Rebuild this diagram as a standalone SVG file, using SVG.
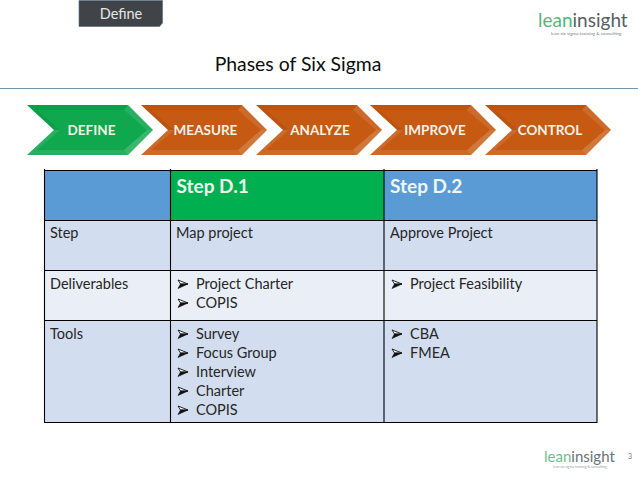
<svg xmlns="http://www.w3.org/2000/svg" width="638" height="479" viewBox="0 0 638 479">
<defs>
<style>
text{font-family:"Lato","Liberation Sans",sans-serif;fill:#262626}
.c{font-size:14.5px}
.h{font-size:19px;font-weight:700;fill:#eef7f0}
.p{font-size:13.5px;font-weight:700;fill:#f3f1e8;text-anchor:middle}
.g{stroke:#000;stroke-width:1.1;fill:none}
.lg{font-size:19px;font-weight:400;fill:#566065}
.lt{font-size:4.6px;fill:#7a8084}
</style>
<g id="chev">
<path d="M0 0H101L126 25L101 50H0L27 25Z"/>
<path d="M101 0L126 25L120 25L97 5Z" fill="#fff" fill-opacity=".1"/>
<path d="M126 25L101 50L97 45L120 25Z" fill="#fff" fill-opacity=".18"/>
<path d="M0 50L27 25H33L10 45H97L101 50Z" fill="#fff" fill-opacity=".1"/>
<path d="M0 0H101L97 5H10L33 25H27Z" fill="#000" fill-opacity=".06"/>
</g>
<g id="arrowbullet">
<path d="M0 0L10 4L2.500 4Z" fill="#fff" stroke="#111" stroke-width=".9"/>
<path d="M0 8.500L10 4H2.500Z" fill="#111" stroke="#111" stroke-width=".6"/>
</g>
</defs>
<rect width="638" height="479" fill="#fff"/>
<g id="tab">
<path d="M79 0.500H162.500V23L159.500 26.500H79Z" fill="#404347" stroke="#5b7486" stroke-width=".7"/>
<text x="121" y="19" font-size="14.500" text-anchor="middle" style="fill:#e6e6e6">Define</text>
</g>
<text id="title" x="298" y="71" font-size="19.400" text-anchor="middle" style="fill:#0d0d0d">Phases of Six Sigma</text>
<line x1="0" y1="88.500" x2="638" y2="88.500" stroke="#6f93ad" stroke-width="1"/>
<g id="logo-top">
<text x="538" y="26.500" class="lg"><tspan style="fill:#54b67c">lean</tspan>insight</text>
<text x="551" y="35" class="lt">lean six sigma training &amp; consulting</text>
</g>
<g id="phase-define" fill="#0fa84f"><use href="#chev" x="27" y="105"/><text x="91.500" y="135" class="p">DEFINE</text></g>
<g id="phase-measure" fill="#c65a12"><use href="#chev" x="141" y="105"/><text x="205.500" y="135" class="p">MEASURE</text></g>
<g id="phase-analyze" fill="#c65a12"><use href="#chev" x="256" y="105"/><text x="320" y="135" class="p">ANALYZE</text></g>
<g id="phase-improve" fill="#c65a12"><use href="#chev" x="370" y="105"/><text x="435" y="135" class="p">IMPROVE</text></g>
<g id="phase-control" fill="#c65a12"><use href="#chev" x="485" y="105"/><text x="550" y="135" class="p">CONTROL</text></g>
<g id="table">
<rect x="44" y="170" width="126" height="50" fill="#5b9bd5"/>
<rect x="170" y="170" width="214" height="50" fill="#00b050"/>
<rect x="384" y="170" width="213" height="50" fill="#5b9bd5"/>
<rect x="44" y="220" width="553" height="50" fill="#d2deef"/>
<rect x="44" y="270" width="553" height="50" fill="#eaeff7"/>
<rect x="44" y="320" width="553" height="102" fill="#d2deef"/>
<path class="g" d="M44 170.500H597M44 220.500H597M44 270.500H597M44 320.500H597M44 422.500H597M44.500 169V423M170.500 169V423M384 169V423M597 169V423"/>
<text x="176.500" y="193" class="h">Step D.1</text>
<text x="390" y="193" class="h">Step D.2</text>
<text x="50" y="238" class="c">Step</text>
<text x="176" y="238" class="c">Map project</text>
<text x="390" y="238" class="c">Approve Project</text>
<text x="50" y="289" class="c">Deliverables</text>
<use href="#arrowbullet" x="178" y="280"/><text x="196" y="289" class="c">Project Charter</text>
<use href="#arrowbullet" x="178" y="299"/><text x="196" y="308" class="c">COPIS</text>
<use href="#arrowbullet" x="392" y="280"/><text x="410" y="289" class="c">Project Feasibility</text>
<text x="50" y="339" class="c">Tools</text>
<use href="#arrowbullet" x="178" y="330"/><text x="196" y="339" class="c">Survey</text>
<use href="#arrowbullet" x="178" y="349"/><text x="196" y="358" class="c">Focus Group</text>
<use href="#arrowbullet" x="178" y="368"/><text x="196" y="377" class="c">Interview</text>
<use href="#arrowbullet" x="178" y="387"/><text x="196" y="396" class="c">Charter</text>
<use href="#arrowbullet" x="178" y="406"/><text x="196" y="415" class="c">COPIS</text>
<use href="#arrowbullet" x="392" y="330"/><text x="410" y="339" class="c">CBA</text>
<use href="#arrowbullet" x="392" y="349"/><text x="410" y="358" class="c">FMEA</text>
</g>
<g id="logo-bottom">
<text x="544" y="462" font-size="15" style="fill:#6a7478"><tspan style="fill:#6cc08f">lean</tspan>insight</text>
<text x="553" y="468" font-size="3.500" style="fill:#9a9fa2">lean six sigma training &amp; consulting</text>
</g>
<text id="page" x="630" y="459" font-size="7" text-anchor="middle" style="fill:#777">3</text>
</svg>
